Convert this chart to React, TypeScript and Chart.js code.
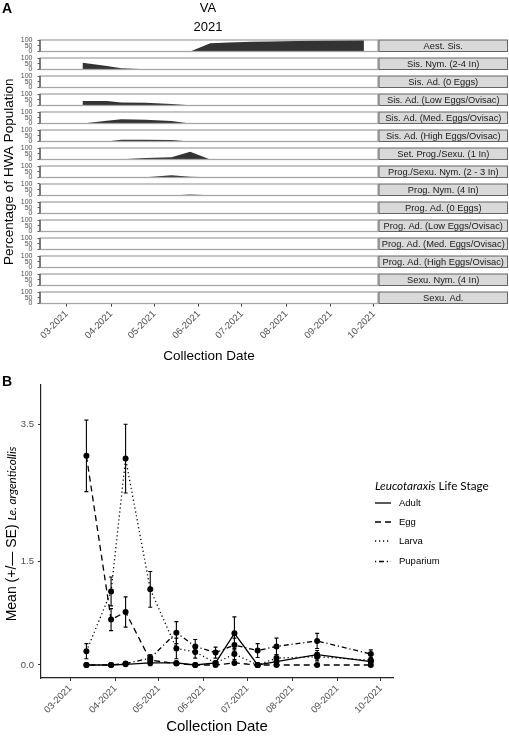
import React, { useEffect, useRef } from 'react';
import { Chart, registerables } from 'chart.js';

Chart.register(...registerables);

// ---------------- DATA ----------------
const collectionDates = [
  '2021-03-12', '2021-03-29', '2021-04-08', '2021-04-25', '2021-05-13', '2021-05-26',
  '2021-06-09', '2021-06-22', '2021-07-08', '2021-07-21', '2021-08-18', '2021-09-24',
];

const monthTickDates = [
  '2021-03-01', '2021-04-01', '2021-05-01', '2021-06-01',
  '2021-07-01', '2021-08-01', '2021-09-01', '2021-10-01',
];
const monthTickLabels = ['03-2021', '04-2021', '05-2021', '06-2021', '07-2021', '08-2021', '09-2021', '10-2021'];

// Panel A: percentage of HWA population per life stage (one array per stage)
const stageLabels = [
  'Aest. Sis.',
  'Sis. Nym. (2-4 In)',
  'Sis. Ad. (0 Eggs)',
  'Sis. Ad. (Low Eggs/Ovisac)',
  'Sis. Ad. (Med. Eggs/Ovisac)',
  'Sis. Ad. (High Eggs/Ovisac)',
  'Set. Prog./Sexu. (1 In)',
  'Prog./Sexu. Nym. (2 - 3 In)',
  'Prog. Nym. (4 In)',
  'Prog. Ad. (0 Eggs)',
  'Prog. Ad. (Low Eggs/Ovisac)',
  'Prog. Ad. (Med. Eggs/Ovisac)',
  'Prog. Ad. (High Eggs/Ovisac)',
  'Sexu. Nym. (4 In)',
  'Sexu. Ad.',
];
const aestSis = [0, 0, 0, 0, 0, 0, 72, 78, 84, 88, 94, 100];
const sisNym = [58, 30, 10, 2, 0, 0, 0, 0, 0, 0, 0, 0];
const sisAd0 = [2, 2, 1, 1, 0, 0, 0, 0, 0, 0, 0, 0];
const sisAdLow = [40, 40, 27, 23, 14, 3, 0, 0, 0, 0, 0, 0];
const sisAdMed = [0, 24, 38, 33, 22, 0, 0, 0, 0, 0, 0, 0];
const sisAdHigh = [0, 0, 15, 15, 12, 0, 0, 0, 0, 0, 0, 0];
const setProgSexu = [0, 0, 3, 12, 20, 68, 0, 0, 0, 0, 0, 0];
const progSexuNym = [0, 0, 0, 3, 20, 6, 2, 0, 0, 0, 0, 0];
const progNym = [0, 0, 0, 0, 1, 8, 3, 0, 0, 0, 0, 0];
const progAd0 = [0, 0, 0, 0, 0, 0, 0, 0, 0, 0, 0, 0];
const progAdLow = [0, 0, 0, 0, 0, 0, 3, 5, 2, 0, 0, 0];
const progAdMed = [0, 0, 0, 0, 0, 0, 2, 4, 1, 0, 0, 0];
const progAdHigh = [0, 0, 0, 0, 0, 0, 0, 0, 0, 0, 0, 0];
const sexuNym = [0, 0, 0, 0, 0, 0, 0, 0, 0, 0, 0, 0];
const sexuAd = [0, 0, 0, 0, 0, 0, 0, 0, 0, 0, 0, 0];
const stageValues = [
  aestSis, sisNym, sisAd0, sisAdLow, sisAdMed, sisAdHigh, setProgSexu, progSexuNym,
  progNym, progAd0, progAdLow, progAdMed, progAdHigh, sexuNym, sexuAd,
];
const stripTickValues = [0, 50, 100];

// Panel B: mean (+/- SE) Le. argenticollis per life stage
const lifeStages = ['Adult', 'Egg', 'Larva', 'Puparium'];
const adultMean = [0, 0, 0.01, 0.03, 0.03, 0, 0.03, 0.46, 0, 0.05, 0.15, 0.05];
const adultSE = [0, 0, 0.01, 0.02, 0.02, 0, 0.02, 0.24, 0, 0.03, 0.06, 0.02];
const eggMean = [3.04, 0.66, 0.77, 0.07, 0.02, 0, 0, 0.03, 0, 0, 0, 0];
const eggSE = [0.52, 0.16, 0.22, 0.08, 0.02, 0, 0, 0.02, 0, 0, 0, 0];
const larvaMean = [0.2, 1.07, 3.0, 1.1, 0.24, 0.19, 0.03, 0.16, 0, 0.1, 0.12, 0.07];
const larvaSE = [0.11, 0.21, 0.5, 0.26, 0.15, 0.09, 0.02, 0.08, 0, 0.05, 0.06, 0.04];
const pupariumMean = [0, 0, 0.02, 0.1, 0.47, 0.27, 0.18, 0.29, 0.21, 0.27, 0.35, 0.16];
const pupariumSE = [0, 0, 0.02, 0.05, 0.16, 0.1, 0.08, 0.1, 0.1, 0.12, 0.11, 0.06];
const meanTickValues = [0, 1.5, 3.5];
const meanTickLabels = ['0.0', '1.5', '3.5'];

// ---------------- STYLE / LAYOUT ----------------
const SANS = '"Liberation Sans", Arial, Helvetica, sans-serif';
const CALI = 'Lato, "Open Sans", sans-serif';
const W = 509;
const A_H = 372;
const B_TOP = 370;
const B_H = 736 - B_TOP;
const STRIP_H = 11.5;
const STRIP_PITCH = 18;

const dayIndex = (iso: string) => {
  const [y, m, d] = iso.split('-').map(Number);
  return (Date.UTC(y, m - 1, d) - Date.UTC(2021, 0, 1)) / 86400000;
};

const dashes: Record<string, number[]> = {
  Adult: [],
  Egg: [6, 4],
  Larva: [1.2, 2.8],
  Puparium: [1.2, 2.8, 5, 2.8],
};

function PanelA() {
  const ref = useRef<HTMLCanvasElement | null>(null);
  useEffect(() => {
    const canvas = ref.current!;
    const xs = collectionDates.map(dayIndex);
    const monthTicks = monthTickDates.map(dayIndex);
    const n = stageLabels.length;
    const span = (100 * STRIP_PITCH) / STRIP_H;
    const base = (i: number) => (n - 1 - i) * span;
    const yTicks: { value: number }[] = [];
    for (let i = n - 1; i >= 0; i--) {
      stripTickValues.forEach((v) => yTicks.push({ value: base(i) + v }));
    }
    const datasets = stageValues.map((vals, i) => ({
      label: stageLabels[i],
      data: vals.map((v, j) => ({ x: xs[j], y: base(i) + v })),
      fill: { value: base(i) },
      backgroundColor: '#333333',
      borderColor: 'rgba(0,0,0,0)',
      borderWidth: 0,
      pointRadius: 0,
      tension: 0,
    }));

    const plugin = {
      id: 'panelA',
      afterDatasetsDraw(chart: any) {
        const { ctx, chartArea } = chart;
        const y = chart.scales.y;
        ctx.save();
        for (let i = 0; i < n; i++) {
          const top = y.getPixelForValue(base(i) + 100);
          const bottom = y.getPixelForValue(base(i));
          ctx.strokeStyle = '#a6a6a6';
          ctx.lineWidth = 1.3;
          ctx.strokeRect(chartArea.left, top, chartArea.right - chartArea.left, bottom - top);
          // axis segment
          ctx.strokeStyle = '#333333';
          ctx.lineWidth = 1;
          ctx.beginPath();
          ctx.moveTo(chartArea.left, top);
          ctx.lineTo(chartArea.left, bottom);
          ctx.stroke();
          // strip label box
          const bx = chartArea.right + 1;
          const bw = 507.5 - bx;
          ctx.fillStyle = '#d9d9d9';
          ctx.fillRect(bx, top, bw, bottom - top);
          ctx.strokeStyle = '#555555';
          ctx.lineWidth = 0.9;
          ctx.strokeRect(bx, top, bw, bottom - top);
          ctx.fillStyle = '#1a1a1a';
          ctx.font = `9.3px ${SANS}`;
          ctx.textAlign = 'center';
          ctx.textBaseline = 'middle';
          ctx.fillText(stageLabels[i], bx + bw / 2, (top + bottom) / 2 + 0.5);
        }
        const cx = (chartArea.left + chartArea.right) / 2;
        ctx.fillStyle = '#000';
        ctx.textAlign = 'center';
        ctx.textBaseline = 'middle';
        ctx.font = `13px ${SANS}`;
        ctx.fillText('VA', cx - 1, 8);
        ctx.fillText('2021', cx - 1, 27);
        ctx.font = `13.5px ${SANS}`;
        ctx.fillText('Collection Date', cx, 356);
        ctx.save();
        ctx.translate(9, (chartArea.top + chartArea.bottom) / 2);
        ctx.rotate(-Math.PI / 2);
        ctx.fillText('Percentage of HWA Population', 0, 0);
        ctx.restore();
        ctx.font = `bold 14px ${SANS}`;
        ctx.textAlign = 'left';
        ctx.fillText('A', 2, 9);
        ctx.restore();
      },
    };

    const chart = new Chart(canvas, {
      type: 'line',
      data: { datasets: datasets as any },
      options: {
        animation: false,
        responsive: false,
        layout: { padding: { top: 40, right: W - 378, left: 0, bottom: 0 } },
        plugins: { legend: { display: false }, tooltip: { enabled: false } },
        scales: {
          x: {
            type: 'linear',
            min: 40.4,
            max: 275.8,
            bounds: 'data',
            afterBuildTicks: (s: any) => {
              s.ticks = monthTicks.map((v) => ({ value: v }));
            },
            afterFit: (s: any) => {
              s.height = A_H - 303.5;
            },
            ticks: {
              autoSkip: false,
              minRotation: 45,
              maxRotation: 45,
              padding: 2,
              color: '#4d4d4d',
              font: { family: SANS, size: 9.5 },
              callback: (_v: any, idx: number) => monthTickLabels[idx],
            },
            grid: { drawOnChartArea: false, drawTicks: true, tickLength: 3, color: '#333333', lineWidth: 1 },
            border: { display: false },
          },
          y: {
            type: 'linear',
            min: 0,
            max: (n - 1) * span + 100,
            bounds: 'data',
            afterBuildTicks: (s: any) => {
              s.ticks = yTicks.map((t) => ({ ...t }));
            },
            afterFit: (s: any) => {
              s.width = 40;
            },
            ticks: {
              autoSkip: false,
              padding: 5,
              color: '#4d4d4d',
              font: { family: SANS, size: 7 },
              callback: (_v: any, idx: number) => String(stripTickValues[idx % 3]),
            },
            grid: { drawOnChartArea: false, drawTicks: true, tickLength: 2.5, color: '#333333', lineWidth: 0.8 },
            border: { display: false },
          },
        },
      } as any,
      plugins: [plugin],
    });
    return () => chart.destroy();
  }, []);
  return <canvas ref={ref} width={W} height={A_H} style={{ position: 'absolute', left: 0, top: 0 }} />;
}

function PanelB() {
  const ref = useRef<HTMLCanvasElement | null>(null);
  useEffect(() => {
    const canvas = ref.current!;
    const xs = collectionDates.map(dayIndex);
    const monthTicks = monthTickDates.map(dayIndex);
    const means = [adultMean, eggMean, larvaMean, pupariumMean];
    const ses = [adultSE, eggSE, larvaSE, pupariumSE];

    const datasets = lifeStages.map((name, k) => ({
      label: name,
      data: means[k].map((v, j) => ({ x: xs[j], y: v })),
      borderColor: '#000000',
      backgroundColor: '#000000',
      borderWidth: 1.3,
      borderDash: dashes[name],
      pointRadius: 3,
      pointBackgroundColor: '#000000',
      pointBorderWidth: 0,
      fill: false,
      tension: 0,
    }));

    const plugin = {
      id: 'panelB',
      beforeDatasetsDraw(chart: any) {
        const { ctx } = chart;
        const xS = chart.scales.x;
        const yS = chart.scales.y;
        ctx.save();
        ctx.strokeStyle = '#000';
        ctx.lineWidth = 1.1;
        ctx.setLineDash([]);
        means.forEach((m, k) => {
          m.forEach((v, j) => {
            const se = ses[k][j];
            if (!se) return;
            const px = xS.getPixelForValue(xs[j]);
            const y1 = yS.getPixelForValue(v + se);
            const y2 = yS.getPixelForValue(v - se);
            ctx.beginPath();
            ctx.moveTo(px, y1);
            ctx.lineTo(px, y2);
            ctx.moveTo(px - 2, y1);
            ctx.lineTo(px + 2, y1);
            ctx.moveTo(px - 2, y2);
            ctx.lineTo(px + 2, y2);
            ctx.stroke();
          });
        });
        ctx.restore();
      },
      afterDraw(chart: any) {
        const { ctx, chartArea } = chart;
        ctx.save();
        ctx.fillStyle = '#000';
        ctx.textBaseline = 'middle';
        // legend
        const lx = 375;
        ctx.textAlign = 'left';
        ctx.font = `italic 11.7px ${CALI}`;
        const t1 = 'Leucotaraxis';
        ctx.fillText(t1, lx, 116);
        const w1 = ctx.measureText(t1).width;
        ctx.font = `11.7px ${CALI}`;
        ctx.fillText(' Life Stage', lx + w1, 116);
        const rows = [133, 152, 171, 191.5];
        lifeStages.forEach((name, k) => {
          ctx.strokeStyle = '#000';
          ctx.lineWidth = 1.3;
          ctx.setLineDash(dashes[name]);
          ctx.beginPath();
          ctx.moveTo(lx, rows[k]);
          ctx.lineTo(lx + 16, rows[k]);
          ctx.stroke();
          ctx.setLineDash([]);
          ctx.font = `9.5px ${SANS}`;
          ctx.fillStyle = '#000';
          ctx.fillText(name, 399, rows[k]);
        });
        // axis titles
        const cx = (chartArea.left + chartArea.right) / 2;
        ctx.textAlign = 'center';
        ctx.font = `15px ${SANS}`;
        ctx.fillText('Collection Date', cx, 357);
        ctx.save();
        ctx.translate(12, 164);
        ctx.rotate(-Math.PI / 2);
        const p1 = 'Mean (+/— SE) ';
        const p2 = 'Le. argenticollis';
        ctx.font = `14px ${SANS}`;
        const a = ctx.measureText(p1).width;
        ctx.font = `italic 11.7px ${CALI}`;
        const b = ctx.measureText(p2).width;
        const start = -(a + b) / 2;
        ctx.textAlign = 'left';
        ctx.font = `14px ${SANS}`;
        ctx.fillText(p1, start, 0);
        ctx.font = `italic 11.7px ${CALI}`;
        ctx.fillText(p2, start + a, 0);
        ctx.restore();
        ctx.font = `bold 14px ${SANS}`;
        ctx.textAlign = 'left';
        ctx.fillText('B', 2, 12);
        ctx.restore();
      },
    };

    const chart = new Chart(canvas, {
      type: 'line',
      data: { datasets: datasets as any },
      options: {
        animation: false,
        responsive: false,
        layout: { padding: { top: 15, right: W - 393, left: 0, bottom: 0 } },
        plugins: { legend: { display: false }, tooltip: { enabled: false } },
        scales: {
          x: {
            type: 'linear',
            min: 38.7,
            max: 281.3,
            bounds: 'data',
            afterBuildTicks: (s: any) => {
              s.ticks = monthTicks.map((v) => ({ value: v }));
            },
            afterFit: (s: any) => {
              s.height = B_H - 308;
            },
            ticks: {
              autoSkip: false,
              minRotation: 45,
              maxRotation: 45,
              padding: 2,
              color: '#4d4d4d',
              font: { family: SANS, size: 9.5 },
              callback: (_v: any, idx: number) => monthTickLabels[idx],
            },
            grid: { drawOnChartArea: false, drawTicks: true, tickLength: 3, color: '#333333', lineWidth: 1 },
            border: { display: true, color: '#222222', width: 1.2 },
          },
          y: {
            type: 'linear',
            min: -0.189,
            max: 4.07,
            bounds: 'data',
            afterBuildTicks: (s: any) => {
              s.ticks = meanTickValues.map((v) => ({ value: v }));
            },
            afterFit: (s: any) => {
              s.width = 41;
            },
            ticks: {
              autoSkip: false,
              padding: 4,
              color: '#4d4d4d',
              font: { family: SANS, size: 9.5 },
              callback: (_v: any, idx: number) => meanTickLabels[idx],
            },
            grid: { drawOnChartArea: false, drawTicks: true, tickLength: 3, color: '#333333', lineWidth: 1 },
            border: { display: true, color: '#222222', width: 1.2 },
          },
        },
      } as any,
      plugins: [plugin],
    });
    return () => chart.destroy();
  }, []);
  return <canvas ref={ref} width={W} height={B_H} style={{ position: 'absolute', left: 0, top: B_TOP }} />;
}

export default function App() {
  useEffect(() => {
    document.body.style.margin = '0';
  }, []);
  return (
    <div style={{ position: 'absolute', left: 0, top: 0, width: W, height: 736, background: '#fff', overflow: 'hidden' }}>
      <PanelA />
      <PanelB />
    </div>
  );
}
